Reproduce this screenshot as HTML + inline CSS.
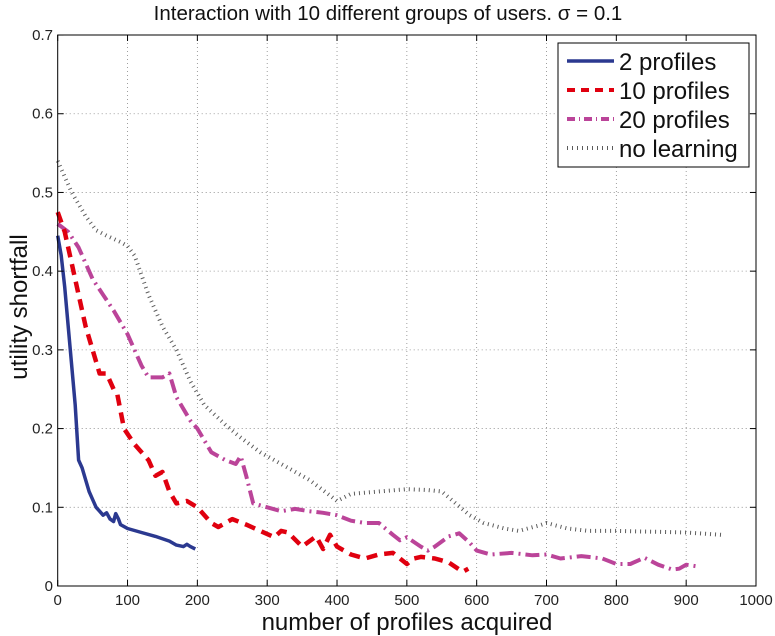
<!DOCTYPE html>
<html><head><meta charset="utf-8"><style>
html,body{margin:0;padding:0;background:#fff;}
svg{display:block;font-family:"Liberation Sans",sans-serif;}
</style></head><body>
<svg id="s" width="775" height="636" viewBox="0 0 775 636" xmlns="http://www.w3.org/2000/svg">
<rect width="775" height="636" fill="#fff"/>
<g id="grid" stroke="#888" stroke-width="0.8" stroke-dasharray="1,3"></g>
<g id="series" fill="none" stroke-linejoin="round"></g>
<rect x="57.7" y="35" width="698.3" height="551" fill="none" stroke="#000" stroke-width="1"/>
<g id="ticks" stroke="#000" stroke-width="1"></g>
<g id="labels" font-size="15" fill="#222"></g>
<text x="388" y="20" font-size="20.5" text-anchor="middle" fill="#111">Interaction with 10 different groups of users. σ = 0.1</text>
<text x="407" y="630" font-size="24" text-anchor="middle" fill="#111">number of profiles acquired</text>
<text transform="translate(27,307) rotate(-90)" font-size="24" text-anchor="middle" fill="#111">utility shortfall</text>
<rect x="558" y="43" width="191" height="124" fill="#fff" stroke="#000" stroke-width="1"/>
<line x1="567" y1="61" x2="614" y2="61" stroke="#2b3990" stroke-width="3.5"/>
<line x1="567" y1="90" x2="614" y2="90" stroke="#e0000f" stroke-width="4" stroke-dasharray="8,6"/>
<line x1="567" y1="119" x2="614" y2="119" stroke="#bb4499" stroke-width="4" stroke-dasharray="8,4,1,4"/>
<line x1="567" y1="148" x2="614" y2="148" stroke="#333" stroke-dasharray="1,4" style="stroke-width:4" opacity="0.8"/>
<g font-size="24" fill="#111">
<text x="619" y="70">2 profiles</text>
<text x="619" y="99">10 profiles</text>
<text x="619" y="128">20 profiles</text>
<text x="619" y="157">no learning</text>
</g>
</svg>
<script>
const X=v=>57.7+v*0.6983, Y=v=>586-v*787.1;
const ns="http://www.w3.org/2000/svg";
function el(p,t,a,txt){const e=document.createElementNS(ns,t);for(const k in a)e.setAttribute(k,a[k]);if(txt!==undefined)e.textContent=txt;document.getElementById(p).appendChild(e);return e;}
for(let i=1;i<10;i++)el("grid","line",{x1:X(i*100),x2:X(i*100),y1:35,y2:586});
for(let j=1;j<7;j++)el("grid","line",{x1:57.7,x2:756,y1:Y(j/10),y2:Y(j/10)});
for(let i=0;i<=10;i++){el("ticks","line",{x1:X(i*100),x2:X(i*100),y1:586,y2:580});el("ticks","line",{x1:X(i*100),x2:X(i*100),y1:35,y2:41});
el("labels","text",{x:X(i*100),y:605,"text-anchor":"middle"},String(i*100));}
for(let j=0;j<=7;j++){el("ticks","line",{x1:57.7,x2:63.7,y1:Y(j/10),y2:Y(j/10)});el("ticks","line",{x1:750,x2:756,y1:Y(j/10),y2:Y(j/10)});
el("labels","text",{x:53,y:Y(j/10)+5,"text-anchor":"end"},j==0?"0":(j/10).toFixed(1));}
function pl(d,attrs){attrs.points=d.map(p=>X(p[0]).toFixed(1)+","+Y(p[1]).toFixed(1)).join(" ");el("series","polyline",attrs);}
const blk=[[0,.54],[10,.52],[20,.5],[40,.47],[55,.452],[70,.445],[90,.437],[100,.432],[110,.42],[130,.37],[150,.33],[170,.3],[190,.26],[210,.23],[240,.205],[260,.19],[290,.17],[330,.15],[360,.135],[390,.115],[400,.108],[420,.117],[460,.12],[500,.123],[530,.122],[550,.12],[570,.105],[590,.09],[610,.08],[640,.073],[660,.07],[690,.077],[700,.08],[730,.073],[760,.07],[800,.07],[900,.068],[950,.065]];
const mag=[[0,.46],[15,.45],[30,.43],[50,.39],[65,.37],[80,.35],[100,.32],[110,.3],[120,.28],[130,.265],[150,.265],[160,.27],[170,.24],[190,.21],[200,.2],[210,.185],[220,.17],[240,.16],[255,.155],[262,.165],[270,.14],[280,.105],[300,.1],[320,.095],[340,.098],[360,.095],[380,.093],[400,.09],[420,.083],[440,.08],[460,.08],[480,.065],[490,.058],[500,.062],[520,.05],[530,.045],[540,.05],[560,.063],[575,.067],[590,.055],[600,.045],[620,.04],[650,.042],[680,.039],[700,.04],[720,.035],[750,.038],[780,.035],[800,.028],[820,.028],[840,.036],[860,.027],[880,.021],[890,.022],[900,.027],[915,.025]];
const red=[[0,.475],[10,.45],[20,.41],[30,.37],[40,.33],[50,.3],[60,.27],[70,.27],[80,.25],[85,.245],[95,.2],[110,.18],[130,.16],[140,.14],[150,.145],[160,.12],[170,.105],[185,.108],[200,.1],[220,.08],[230,.075],[250,.085],[270,.078],[290,.07],[310,.062],[320,.07],[330,.068],[350,.05],[370,.063],[380,.047],[390,.065],[400,.05],[420,.04],[440,.035],[460,.04],[480,.042],[500,.028],[510,.035],[520,.037],[540,.035],[560,.03],[580,.018],[588,.022]];
const blu=[[0,.445],[5,.42],[10,.38],[15,.33],[20,.28],[25,.23],[30,.16],[35,.15],[40,.135],[45,.12],[50,.11],[55,.1],[60,.095],[65,.09],[70,.093],[75,.085],[80,.082],[83,.092],[87,.085],[90,.078],[100,.073],[120,.068],[140,.063],[160,.057],[170,.052],[180,.05],[185,.053],[190,.05],[197,.047]];
pl(blk,{stroke:"#333","stroke-width":4,"stroke-dasharray":"1,4",opacity:0.8});
pl(mag,{stroke:"#bb4499","stroke-width":4,"stroke-dasharray":"14,5,2,5"});
pl(red,{stroke:"#e0000f","stroke-width":4.5,"stroke-dasharray":"11,7"});
pl(blu,{stroke:"#2b3990","stroke-width":3.5});
</script>
</body></html>
